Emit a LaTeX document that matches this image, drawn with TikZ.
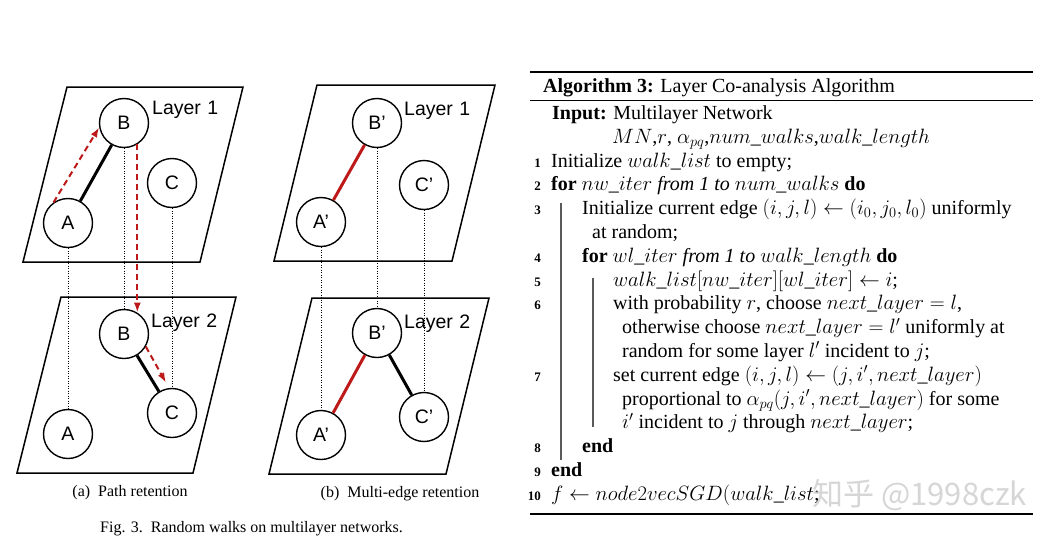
\documentclass[tikz,border=0pt]{standalone}
\usepackage{fontspec}
\setmainfont{Liberation Serif}[
  UprightFont={Liberation Serif},
  BoldFont={Liberation Serif Bold},
  ItalicFont={Liberation Serif Italic},
  BoldItalicFont={Liberation Serif Bold Italic}]
\setsansfont{Liberation Sans}
\newfontfamily\cjkfont{Noto Sans CJK SC}
\usetikzlibrary{arrows.meta}
\definecolor{walkred}{RGB}{190,25,25}
\definecolor{barcol}{RGB}{90,90,90}
\begin{document}
\begin{tikzpicture}[x=1pt,y=-1pt,
  plane/.style={line width=1.5pt, line join=miter},
  vnode/.style={circle, draw, line width=1.4pt, minimum size=49pt, inner sep=0pt, fill=white,
    font=\sffamily\fontsize{19.5}{20}\selectfont},
  layerlbl/.style={anchor=west, inner sep=0pt, font=\sffamily\fontsize{19.5}{20}\selectfont},
  interlink/.style={line width=1pt, dash pattern=on 1.2pt off 1.3pt},
  walkarrow/.style={walkred, line width=2pt, dash pattern=on 6pt off 4pt,
    -{Latex[length=10pt,width=7pt]}},
  blackedge/.style={line width=3pt},
  rededge/.style={walkred, line width=3pt},
  captxt/.style={inner sep=0pt, font=\fontsize{16}{18}\selectfont},
  algtxt/.style={anchor=base west, inner sep=0pt, font=\fontsize{20}{24}\selectfont},
  algnum/.style={anchor=base east, inner sep=0pt, font=\bfseries\fontsize{13}{15}\selectfont},
  rulethick/.style={line width=1.5pt},
  rulethin/.style={line width=1pt},
  blockbar/.style={barcol, line width=1.2pt}
]
\useasboundingbox (0,0) rectangle (1060,541);
\fill[white] (0,0) rectangle (1060,541);

% ---------- panel (a) ----------
\draw[plane] (67,87) -- (243,87) -- (200,262) -- (23,262) -- cycle;
\draw[plane] (61,297) -- (236,297) -- (193,473) -- (17,473) -- cycle;
\node[vnode] (A1) at (68,223) {A};
\node[vnode] (B1) at (124,123) {B};
\node[vnode] (C1) at (172,183) {C};
\node[vnode] (A2) at (68,434) {A};
\node[vnode] (B2) at (124,334) {B};
\node[vnode] (C2) at (172,413) {C};
\node[layerlbl] (L1a) at (152,110) {Layer\,\,1};
\node[layerlbl] (L2a) at (151,323) {Layer\,\,2};
\draw[interlink] (A1) -- (A2);
\draw[interlink] (B1) -- (B2);
\draw[interlink] (C1) -- (C2);
\draw[blackedge] (A1) -- (B1);
\draw[blackedge] (B2) -- (C2);
\draw[walkarrow] (A1.125) -- (B1.190);
\draw[walkarrow] (B1.-58) -- (B2.58);
\draw[walkarrow, shorten >=6pt] (B2.-30) -- (C2.97);
\node[captxt] (capa) at (130,493) {(a)\ \ Path retention};

% ---------- panel (b) ----------
\draw[plane] (317,85) -- (495,85) -- (452,261) -- (274,261) -- cycle;
\draw[plane] (312,298) -- (489,298) -- (446,474) -- (269,474) -- cycle;
\node[vnode] (Ap1) at (321,222) {A’};
\node[vnode] (Bp1) at (377,123) {B’};
\node[vnode] (Cp1) at (424,185) {C’};
\node[vnode] (Ap2) at (321,435) {A’};
\node[vnode] (Bp2) at (377,333) {B’};
\node[vnode] (Cp2) at (424,417) {C’};
\node[layerlbl] (L1b) at (404,111) {Layer\,\,1};
\node[layerlbl] (L2b) at (404,324) {Layer\,\,2};
\draw[interlink] (Ap1) -- (Ap2);
\draw[interlink] (Bp1) -- (Bp2);
\draw[interlink] (Cp1) -- (Cp2);
\draw[rededge] (Ap1) -- (Bp1);
\draw[rededge] (Ap2) -- (Bp2);
\draw[blackedge] (Bp2) -- (Cp2);
\node[captxt] (capb) at (400,494) {(b)\ \ Multi-edge retention};

\node[captxt, anchor=west] (fig) at (100,529) {Fig. 3.\ \ Random walks on multilayer networks.};

% ---------- algorithm ----------
\draw[rulethick] (530,72) -- (1033,72);
\draw[rulethin] (530,100) -- (1033,100);
\draw[rulethick] (530,514) -- (1033,514);
\node[algtxt] (title) at (543,92) {\textbf{Algorithm 3:} Layer Co-analysis Algorithm};
\node[algtxt] (inp) at (552,119) {\textbf{Input:} Multilayer Network};
\node[algtxt] (inp2) at (612,143) {$MN$,$r$, $\alpha_{pq}$,$num\_walks$,$walk\_length$};

\node[algnum] (n1) at (541,167) {1};
\node[algtxt] (t1) at (551,167) {Initialize $walk\_list$ to empty;};
\node[algnum] (n2) at (541,190.8) {2};
\node[algtxt] (t2) at (551,190.8) {\textbf{for} $nw\_iter$ \textit{from 1 to} $num\_walks$ \textbf{do}};
\node[algnum] (n3) at (541,214.6) {3};
\node[algtxt] (t3) at (582,214.6) {Initialize current edge $(i,j,l)\leftarrow(i_0,j_0,l_0)$ uniformly};
\node[algtxt] (t3b) at (592,238.4) {at random;};
\node[algnum] (n4) at (541,262.2) {4};
\node[algtxt] (t4) at (582,262.2) {\textbf{for} $wl\_iter$ \textit{from 1 to} $walk\_length$ \textbf{do}};
\node[algnum] (n5) at (541,286) {5};
\node[algtxt] (t5) at (613,286) {$walk\_list[nw\_iter][wl\_iter]\leftarrow i$;};
\node[algnum] (n6) at (541,309.8) {6};
\node[algtxt] (t6) at (613,309.8) {with probability $r$, choose $next\_layer=l$,};
\node[algtxt] (t6b) at (622,333.6) {otherwise choose $next\_layer=l'$ uniformly at};
\node[algtxt] (t6c) at (622,357.4) {random for some layer $l'$ incident to $j$;};
\node[algnum] (n7) at (541,381.2) {7};
\node[algtxt] (t7) at (613,381.2) {set current edge $(i,j,l)\leftarrow(j,i',next\_layer)$};
\node[algtxt] (t7b) at (622,405) {proportional to $\alpha_{pq}(j,i',next\_layer)$ for some};
\node[algtxt] (t7c) at (622,428.8) {$i'$ incident to $j$ through $next\_layer$;};
\node[algnum] (n8) at (541,452.6) {8};
\node[algtxt] (t8) at (582,452.6) {\textbf{end}};
\node[algnum] (n9) at (541,476.4) {9};
\node[algtxt] (t9) at (551,476.4) {\textbf{end}};
\node[algnum] (n10) at (541,500.2) {10};
\node[algtxt] (t10) at (551,500.2) {$f\leftarrow node2vecSGD(walk\_list$;};

\draw[blockbar] (561,203) -- (561,460);
\draw[blockbar] (593,278) -- (593,427);

% watermark
\node[anchor=west, inner sep=0pt, text=gray!38, opacity=0.85,
  font=\fontsize{31}{31}\selectfont] (wm) at (812,495) {\cjkfont 知乎 @1998czk};
\end{tikzpicture}
\end{document}
